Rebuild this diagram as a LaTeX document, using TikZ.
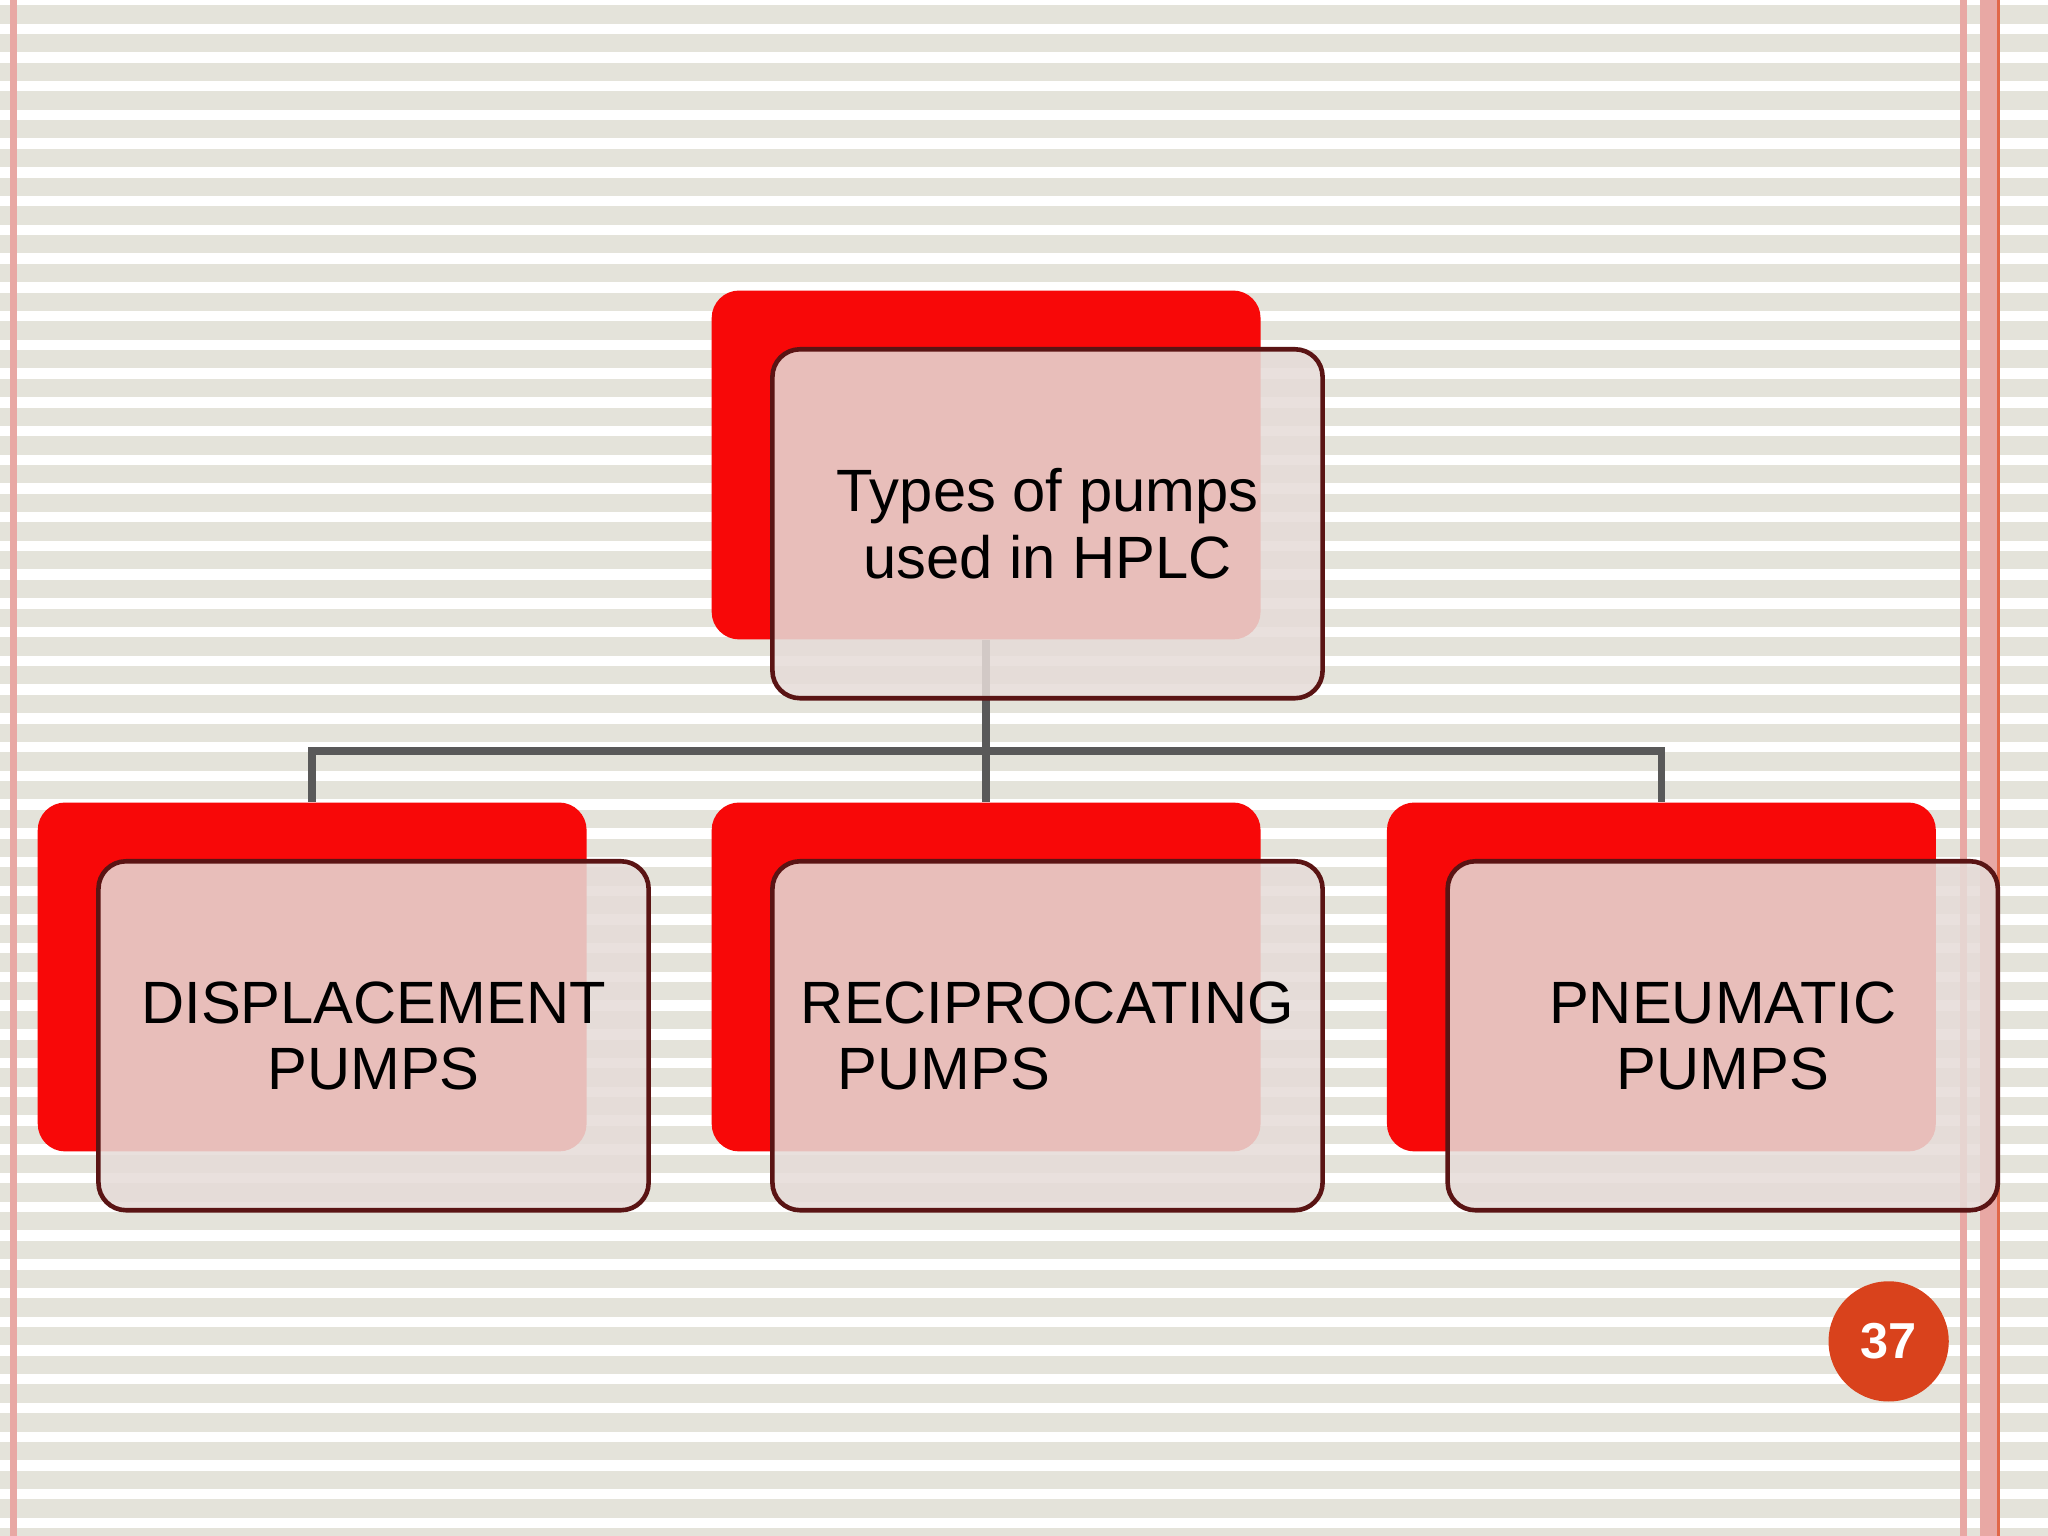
\documentclass[tikz,border=0pt]{standalone}
\usepackage{fontspec}
\setmainfont{Liberation Sans}
\usetikzlibrary{positioning}
\definecolor{stripe}{HTML}{E4E3DA}
\definecolor{backred}{HTML}{F80808}
\definecolor{frontfill}{HTML}{E6DCD8}
\definecolor{edgered}{HTML}{5A1414}
\definecolor{pinkline}{HTML}{E8A8A4}
\definecolor{badge}{HTML}{D9421C}
\tikzset{
  back/.style={draw=none, fill=backred, rounded corners=6pt, minimum width=4.2cm, minimum height=2.67cm},
  front/.style={draw=edgered, line width=1pt, fill=frontfill, fill opacity=0.86, text opacity=1,
    rounded corners=6pt, minimum width=4.21cm, minimum height=2.67cm, align=center,
    font=\fontsize{13}{14.5}\selectfont},
  link/.style={draw=black!65, line width=1.6pt}
}
\begin{document}
\begin{tikzpicture}[x=0.01cm,y=-0.01cm]
  \useasboundingbox (0,0) rectangle (1568,1176);
  % background stripes
  \fill[white] (0,0) rectangle (1568,1176);
  \foreach \y in {4,26,...,1176}
    \fill[stripe] (0,\y) rectangle (1568,\y+14);
  \draw[pinkline, line width=1.5pt] (10,0) -- (10,1176);
  \draw[pinkline, line width=1.5pt] (1503,0) -- (1503,1176);
  \fill[pinkline] (1516,0) rectangle (1530,1176);
  \draw[badge!80, line width=0.8pt] (1530,0) -- (1530,1176);
  % back boxes
  \node[back] (tb) at (755,356) {};
  \node[back] (db) at (239,748) {};
  \node[back] (rb) at (755,748) {};
  \node[back] (pb) at (1272,748) {};
  % connectors
  \coordinate (bus) at (755,575);
  \draw[link] (tb.south) -- (bus);
  \draw[link] (db.north) |- (bus) -| (pb.north);
  \draw[link] (bus) -- (rb.north);
  % front boxes
  \node[front] (tf) at (802,401) {Types of pumps\\used in HPLC};
  \node[front] (df) at (286,793) {DISPLACEMENT\\PUMPS};
  \node[front, align=left] (rf) at (802,793) {RECIPROCATING\\\hspace*{0.28cm}PUMPS};
  \node[front] (pf) at (1319,793) {PNEUMATIC\\PUMPS};
  % page number
  \node[circle, fill=badge, minimum size=0.92cm, text=white, font=\bfseries\fontsize{11}{12}\selectfont] (num) at (1446,1027) {37};
\end{tikzpicture}
\end{document}
